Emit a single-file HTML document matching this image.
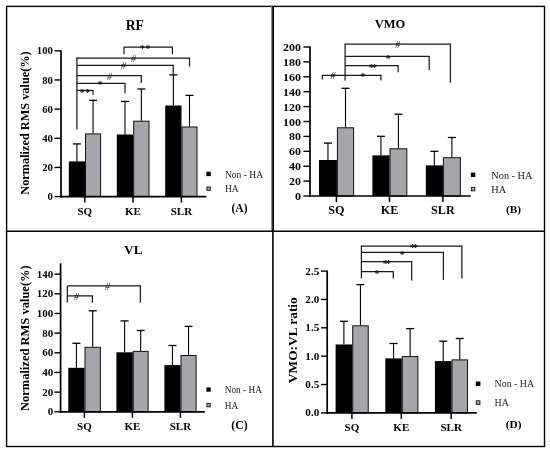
<!DOCTYPE html>
<html><head><meta charset="utf-8"><title>Figure</title>
<style>
html,body{margin:0;padding:0;background:#fff;}
svg{display:block;filter:blur(0.3px);}
svg text{font-family:"Liberation Serif", "Times New Roman", serif;}
</style></head>
<body>
<svg width="550" height="453" viewBox="0 0 550 453">
<rect x="0" y="0" width="550" height="453" fill="#fff"/>
<rect x="6.6" y="6.4" width="537.9" height="440.1" fill="none" stroke="#000" stroke-width="1.4"/>
<line x1="271.7" y1="6" x2="271.7" y2="231" stroke="#777" stroke-width="1.0"/>
<line x1="273.1" y1="6" x2="273.1" y2="231" stroke="#000" stroke-width="1.8"/>
<line x1="272.9" y1="231" x2="272.9" y2="447" stroke="#000" stroke-width="1.6"/>
<line x1="6" y1="231.2" x2="545" y2="231.2" stroke="#000" stroke-width="1.4"/>
<line x1="54.5" y1="196.6" x2="61.0" y2="196.6" stroke="#000" stroke-width="1.4"/>
<text x="52.9" y="200.2" font-size="11" font-weight="bold" text-anchor="end" fill="#000" textLength="5.35" lengthAdjust="spacingAndGlyphs">0</text>
<line x1="54.5" y1="167.44" x2="61.0" y2="167.44" stroke="#000" stroke-width="1.4"/>
<text x="52.9" y="171.04" font-size="11" font-weight="bold" text-anchor="end" fill="#000" textLength="10.70" lengthAdjust="spacingAndGlyphs">20</text>
<line x1="54.5" y1="138.27999999999997" x2="61.0" y2="138.27999999999997" stroke="#000" stroke-width="1.4"/>
<text x="52.9" y="141.88" font-size="11" font-weight="bold" text-anchor="end" fill="#000" textLength="10.70" lengthAdjust="spacingAndGlyphs">40</text>
<line x1="54.5" y1="109.11999999999999" x2="61.0" y2="109.11999999999999" stroke="#000" stroke-width="1.4"/>
<text x="52.9" y="112.72" font-size="11" font-weight="bold" text-anchor="end" fill="#000" textLength="10.70" lengthAdjust="spacingAndGlyphs">60</text>
<line x1="54.5" y1="79.95999999999998" x2="61.0" y2="79.95999999999998" stroke="#000" stroke-width="1.4"/>
<text x="52.9" y="83.56" font-size="11" font-weight="bold" text-anchor="end" fill="#000" textLength="10.70" lengthAdjust="spacingAndGlyphs">80</text>
<line x1="54.5" y1="50.79999999999998" x2="61.0" y2="50.79999999999998" stroke="#000" stroke-width="1.4"/>
<text x="52.9" y="54.4" font-size="11" font-weight="bold" text-anchor="end" fill="#000" textLength="16.05" lengthAdjust="spacingAndGlyphs">100</text>
<rect x="68.80" y="161.40" width="16.20" height="35.20" fill="#000"/>
<line x1="76.9" y1="161.4" x2="76.9" y2="143.9" stroke="#000" stroke-width="1.1"/>
<line x1="72.9" y1="143.9" x2="80.9" y2="143.9" stroke="#000" stroke-width="1.3"/>
<rect x="85.50" y="133.90" width="15.10" height="62.70" fill="#a5a6aa" stroke="#111" stroke-width="1.0"/>
<line x1="93.05" y1="133.4" x2="93.05" y2="100.3" stroke="#000" stroke-width="1.1"/>
<line x1="89.05" y1="100.3" x2="97.05" y2="100.3" stroke="#000" stroke-width="1.3"/>
<rect x="116.80" y="134.50" width="16.40" height="62.10" fill="#000"/>
<line x1="125.0" y1="134.5" x2="125.0" y2="101.4" stroke="#000" stroke-width="1.1"/>
<line x1="121.0" y1="101.4" x2="129.0" y2="101.4" stroke="#000" stroke-width="1.3"/>
<rect x="133.70" y="121.20" width="15.30" height="75.40" fill="#a5a6aa" stroke="#111" stroke-width="1.0"/>
<line x1="141.35" y1="120.7" x2="141.35" y2="89.0" stroke="#000" stroke-width="1.1"/>
<line x1="137.35" y1="89.0" x2="145.35" y2="89.0" stroke="#000" stroke-width="1.3"/>
<rect x="165.20" y="105.50" width="16.30" height="91.10" fill="#000"/>
<line x1="173.35" y1="105.5" x2="173.35" y2="74.9" stroke="#000" stroke-width="1.1"/>
<line x1="169.35" y1="74.9" x2="177.35" y2="74.9" stroke="#000" stroke-width="1.3"/>
<rect x="182.00" y="127.00" width="15.00" height="69.60" fill="#a5a6aa" stroke="#111" stroke-width="1.0"/>
<line x1="189.5" y1="126.5" x2="189.5" y2="95.4" stroke="#000" stroke-width="1.1"/>
<line x1="185.5" y1="95.4" x2="193.5" y2="95.4" stroke="#000" stroke-width="1.3"/>
<line x1="61.0" y1="50.6" x2="61.0" y2="197.45" stroke="#000" stroke-width="1.7"/>
<line x1="60.15" y1="196.6" x2="206.4" y2="196.6" stroke="#000" stroke-width="1.7"/>
<line x1="84.8" y1="196.6" x2="84.8" y2="202.6" stroke="#000" stroke-width="1.5"/>
<line x1="133.0" y1="196.6" x2="133.0" y2="202.6" stroke="#000" stroke-width="1.5"/>
<line x1="181.4" y1="196.6" x2="181.4" y2="202.6" stroke="#000" stroke-width="1.5"/>
<text x="84.8" y="214.5" font-size="11" font-weight="bold" text-anchor="middle" fill="#000">SQ</text>
<text x="133.0" y="214.5" font-size="11" font-weight="bold" text-anchor="middle" fill="#000">KE</text>
<text x="181.4" y="214.5" font-size="11" font-weight="bold" text-anchor="middle" fill="#000">SLR</text>
<line x1="76.9" y1="57.2" x2="76.9" y2="129.5" stroke="#1a1a1a" stroke-width="1.25"/>
<line x1="124.0" y1="47.2" x2="172.4" y2="47.2" stroke="#1a1a1a" stroke-width="1.25"/>
<line x1="124.0" y1="46.7" x2="124.0" y2="54.2" stroke="#1a1a1a" stroke-width="1.25"/>
<line x1="172.4" y1="46.7" x2="172.4" y2="54.2" stroke="#1a1a1a" stroke-width="1.25"/>
<line x1="76.9" y1="58.0" x2="189.5" y2="58.0" stroke="#1a1a1a" stroke-width="1.25"/>
<line x1="189.5" y1="57.5" x2="189.5" y2="66.5" stroke="#1a1a1a" stroke-width="1.25"/>
<line x1="76.9" y1="65.3" x2="173.2" y2="65.3" stroke="#1a1a1a" stroke-width="1.25"/>
<line x1="173.2" y1="64.8" x2="173.2" y2="74.0" stroke="#1a1a1a" stroke-width="1.25"/>
<line x1="76.9" y1="75.5" x2="141.3" y2="75.5" stroke="#1a1a1a" stroke-width="1.25"/>
<line x1="141.3" y1="75.0" x2="141.3" y2="83.0" stroke="#1a1a1a" stroke-width="1.25"/>
<line x1="76.9" y1="83.3" x2="125.0" y2="83.3" stroke="#1a1a1a" stroke-width="1.25"/>
<line x1="125.0" y1="82.8" x2="125.0" y2="93.2" stroke="#1a1a1a" stroke-width="1.25"/>
<line x1="76.9" y1="90.4" x2="93.0" y2="90.4" stroke="#1a1a1a" stroke-width="1.25"/>
<line x1="93.0" y1="89.9" x2="93.0" y2="94.8" stroke="#1a1a1a" stroke-width="1.25"/>
<text x="142.4" y="52.3" font-size="10.5" font-weight="bold" text-anchor="middle" fill="#111">*</text>
<text x="147.8" y="52.3" font-size="10.5" font-weight="bold" text-anchor="middle" fill="#111">*</text>
<text x="133.5" y="62.0" font-size="10" font-weight="normal" text-anchor="middle" fill="#1a1a1a" font-style="italic">#</text>
<text x="123.4" y="69.3" font-size="10" font-weight="normal" text-anchor="middle" fill="#1a1a1a" font-style="italic">#</text>
<text x="109.5" y="79.5" font-size="10" font-weight="normal" text-anchor="middle" fill="#1a1a1a" font-style="italic">#</text>
<text x="100.1" y="88.4" font-size="10.5" font-weight="bold" text-anchor="middle" fill="#111">*</text>
<text x="82.2" y="95.5" font-size="10.5" font-weight="bold" text-anchor="middle" fill="#111">*</text>
<text x="87.5" y="95.5" font-size="10.5" font-weight="bold" text-anchor="middle" fill="#111">*</text>
<rect x="206.40" y="171.70" width="4.40" height="4.40" fill="#000"/>
<rect x="206.90" y="187.00" width="3.40" height="3.40" fill="#a5a6aa" stroke="#222" stroke-width="1.0"/>
<text x="225.0" y="177.5" font-size="9.5" font-weight="normal" text-anchor="start" fill="#1a1a1a">Non - HA</text>
<text x="225.0" y="192.0" font-size="9.5" font-weight="normal" text-anchor="start" fill="#1a1a1a">HA</text>
<text x="239.5" y="212.3" font-size="11.5" font-weight="bold" text-anchor="middle" fill="#000">(A)</text>
<text x="134.8" y="30.1" font-size="13.6" font-weight="bold" text-anchor="middle" fill="#000">RF</text>
<text transform="translate(29.0,123.0) rotate(-90)" font-size="12.3" font-weight="bold" text-anchor="middle">Normalized RMS value(%)</text>
<line x1="303.4" y1="196.0" x2="310.0" y2="196.0" stroke="#000" stroke-width="1.4"/>
<text x="301.0" y="200.0" font-size="11.2" font-weight="bold" text-anchor="end" fill="#000" textLength="6.00" lengthAdjust="spacingAndGlyphs">0</text>
<line x1="303.4" y1="181.1" x2="310.0" y2="181.1" stroke="#000" stroke-width="1.4"/>
<text x="301.0" y="185.1" font-size="11.2" font-weight="bold" text-anchor="end" fill="#000" textLength="12.00" lengthAdjust="spacingAndGlyphs">20</text>
<line x1="303.4" y1="166.2" x2="310.0" y2="166.2" stroke="#000" stroke-width="1.4"/>
<text x="301.0" y="170.2" font-size="11.2" font-weight="bold" text-anchor="end" fill="#000" textLength="12.00" lengthAdjust="spacingAndGlyphs">40</text>
<line x1="303.4" y1="151.3" x2="310.0" y2="151.3" stroke="#000" stroke-width="1.4"/>
<text x="301.0" y="155.3" font-size="11.2" font-weight="bold" text-anchor="end" fill="#000" textLength="12.00" lengthAdjust="spacingAndGlyphs">60</text>
<line x1="303.4" y1="136.4" x2="310.0" y2="136.4" stroke="#000" stroke-width="1.4"/>
<text x="301.0" y="140.4" font-size="11.2" font-weight="bold" text-anchor="end" fill="#000" textLength="12.00" lengthAdjust="spacingAndGlyphs">80</text>
<line x1="303.4" y1="121.5" x2="310.0" y2="121.5" stroke="#000" stroke-width="1.4"/>
<text x="301.0" y="125.5" font-size="11.2" font-weight="bold" text-anchor="end" fill="#000" textLength="18.00" lengthAdjust="spacingAndGlyphs">100</text>
<line x1="303.4" y1="106.6" x2="310.0" y2="106.6" stroke="#000" stroke-width="1.4"/>
<text x="301.0" y="110.6" font-size="11.2" font-weight="bold" text-anchor="end" fill="#000" textLength="18.00" lengthAdjust="spacingAndGlyphs">120</text>
<line x1="303.4" y1="91.7" x2="310.0" y2="91.7" stroke="#000" stroke-width="1.4"/>
<text x="301.0" y="95.7" font-size="11.2" font-weight="bold" text-anchor="end" fill="#000" textLength="18.00" lengthAdjust="spacingAndGlyphs">140</text>
<line x1="303.4" y1="76.8" x2="310.0" y2="76.8" stroke="#000" stroke-width="1.4"/>
<text x="301.0" y="80.8" font-size="11.2" font-weight="bold" text-anchor="end" fill="#000" textLength="18.00" lengthAdjust="spacingAndGlyphs">160</text>
<line x1="303.4" y1="61.900000000000006" x2="310.0" y2="61.900000000000006" stroke="#000" stroke-width="1.4"/>
<text x="301.0" y="65.9" font-size="11.2" font-weight="bold" text-anchor="end" fill="#000" textLength="18.00" lengthAdjust="spacingAndGlyphs">180</text>
<line x1="303.4" y1="47.0" x2="310.0" y2="47.0" stroke="#000" stroke-width="1.4"/>
<text x="301.0" y="51.0" font-size="11.2" font-weight="bold" text-anchor="end" fill="#000" textLength="18.00" lengthAdjust="spacingAndGlyphs">200</text>
<rect x="319.00" y="160.00" width="17.90" height="36.00" fill="#000"/>
<line x1="327.95" y1="160.0" x2="327.95" y2="143.1" stroke="#000" stroke-width="1.1"/>
<line x1="323.95" y1="143.1" x2="331.95" y2="143.1" stroke="#000" stroke-width="1.3"/>
<rect x="337.40" y="127.80" width="16.20" height="68.20" fill="#a5a6aa" stroke="#111" stroke-width="1.0"/>
<line x1="345.5" y1="127.3" x2="345.5" y2="88.3" stroke="#000" stroke-width="1.1"/>
<line x1="341.5" y1="88.3" x2="349.5" y2="88.3" stroke="#000" stroke-width="1.3"/>
<rect x="372.40" y="155.40" width="17.10" height="40.60" fill="#000"/>
<line x1="380.95" y1="155.4" x2="380.95" y2="136.3" stroke="#000" stroke-width="1.1"/>
<line x1="376.95" y1="136.3" x2="384.95" y2="136.3" stroke="#000" stroke-width="1.3"/>
<rect x="390.00" y="148.80" width="16.80" height="47.20" fill="#a5a6aa" stroke="#111" stroke-width="1.0"/>
<line x1="398.4" y1="148.3" x2="398.4" y2="114.2" stroke="#000" stroke-width="1.1"/>
<line x1="394.4" y1="114.2" x2="402.4" y2="114.2" stroke="#000" stroke-width="1.3"/>
<rect x="425.80" y="165.40" width="17.10" height="30.60" fill="#000"/>
<line x1="434.35" y1="165.4" x2="434.35" y2="151.3" stroke="#000" stroke-width="1.1"/>
<line x1="430.35" y1="151.3" x2="438.35" y2="151.3" stroke="#000" stroke-width="1.3"/>
<rect x="443.40" y="157.70" width="17.00" height="38.30" fill="#a5a6aa" stroke="#111" stroke-width="1.0"/>
<line x1="451.9" y1="157.2" x2="451.9" y2="137.5" stroke="#000" stroke-width="1.1"/>
<line x1="447.9" y1="137.5" x2="455.9" y2="137.5" stroke="#000" stroke-width="1.3"/>
<line x1="310.0" y1="46.6" x2="310.0" y2="196.85" stroke="#000" stroke-width="1.7"/>
<line x1="309.15" y1="196.0" x2="470.8" y2="196.0" stroke="#000" stroke-width="1.7"/>
<line x1="336.4" y1="196.0" x2="336.4" y2="202.0" stroke="#000" stroke-width="1.5"/>
<line x1="389.5" y1="196.0" x2="389.5" y2="202.0" stroke="#000" stroke-width="1.5"/>
<line x1="442.9" y1="196.0" x2="442.9" y2="202.0" stroke="#000" stroke-width="1.5"/>
<text x="336.4" y="214.1" font-size="12.2" font-weight="bold" text-anchor="middle" fill="#000">SQ</text>
<text x="389.5" y="214.1" font-size="12.2" font-weight="bold" text-anchor="middle" fill="#000">KE</text>
<text x="442.9" y="214.1" font-size="12.2" font-weight="bold" text-anchor="middle" fill="#000">SLR</text>
<line x1="345.1" y1="43.6" x2="345.1" y2="80.4" stroke="#1a1a1a" stroke-width="1.25"/>
<line x1="345.1" y1="44.1" x2="450.4" y2="44.1" stroke="#1a1a1a" stroke-width="1.25"/>
<line x1="450.4" y1="43.6" x2="450.4" y2="82.7" stroke="#1a1a1a" stroke-width="1.25"/>
<line x1="345.1" y1="56.4" x2="429.2" y2="56.4" stroke="#1a1a1a" stroke-width="1.25"/>
<line x1="429.2" y1="55.9" x2="429.2" y2="69.9" stroke="#1a1a1a" stroke-width="1.25"/>
<line x1="345.1" y1="65.6" x2="398.1" y2="65.6" stroke="#1a1a1a" stroke-width="1.25"/>
<line x1="398.1" y1="65.1" x2="398.1" y2="72.2" stroke="#1a1a1a" stroke-width="1.25"/>
<line x1="322.4" y1="75.3" x2="380.9" y2="75.3" stroke="#1a1a1a" stroke-width="1.25"/>
<line x1="322.4" y1="74.8" x2="322.4" y2="79.5" stroke="#1a1a1a" stroke-width="1.25"/>
<line x1="380.9" y1="74.8" x2="380.9" y2="80.4" stroke="#1a1a1a" stroke-width="1.25"/>
<text x="397.7" y="48.1" font-size="10" font-weight="normal" text-anchor="middle" fill="#1a1a1a" font-style="italic">#</text>
<text x="388.0" y="61.5" font-size="10.5" font-weight="bold" text-anchor="middle" fill="#111">*</text>
<text x="371.2" y="70.7" font-size="10.5" font-weight="bold" text-anchor="middle" fill="#111">*</text>
<text x="374.4" y="70.7" font-size="10.5" font-weight="bold" text-anchor="middle" fill="#111">*</text>
<text x="333.1" y="79.3" font-size="10" font-weight="normal" text-anchor="middle" fill="#1a1a1a" font-style="italic">#</text>
<text x="362.9" y="80.4" font-size="10.5" font-weight="bold" text-anchor="middle" fill="#111">*</text>
<rect x="470.90" y="172.60" width="4.40" height="4.40" fill="#000"/>
<rect x="471.40" y="187.40" width="3.40" height="3.40" fill="#a5a6aa" stroke="#222" stroke-width="1.0"/>
<text x="491.3" y="178.5" font-size="10.3" font-weight="normal" text-anchor="start" fill="#1a1a1a">Non - HA</text>
<text x="491.3" y="192.5" font-size="10.3" font-weight="normal" text-anchor="start" fill="#1a1a1a">HA</text>
<text x="513.6" y="212.9" font-size="11.3" font-weight="bold" text-anchor="middle" fill="#000">(B)</text>
<text x="390.0" y="28.3" font-size="12.5" font-weight="bold" text-anchor="middle" fill="#000">VMO</text>
<line x1="54.4" y1="411.8" x2="60.6" y2="411.8" stroke="#000" stroke-width="1.4"/>
<text x="53.2" y="415.2" font-size="11" font-weight="bold" text-anchor="end" fill="#000" textLength="5.50" lengthAdjust="spacingAndGlyphs">0</text>
<line x1="54.4" y1="392.12857142857143" x2="60.6" y2="392.12857142857143" stroke="#000" stroke-width="1.4"/>
<text x="53.2" y="395.53" font-size="11" font-weight="bold" text-anchor="end" fill="#000" textLength="11.00" lengthAdjust="spacingAndGlyphs">20</text>
<line x1="54.4" y1="372.45714285714286" x2="60.6" y2="372.45714285714286" stroke="#000" stroke-width="1.4"/>
<text x="53.2" y="375.86" font-size="11" font-weight="bold" text-anchor="end" fill="#000" textLength="11.00" lengthAdjust="spacingAndGlyphs">40</text>
<line x1="54.4" y1="352.7857142857143" x2="60.6" y2="352.7857142857143" stroke="#000" stroke-width="1.4"/>
<text x="53.2" y="356.19" font-size="11" font-weight="bold" text-anchor="end" fill="#000" textLength="11.00" lengthAdjust="spacingAndGlyphs">60</text>
<line x1="54.4" y1="333.11428571428576" x2="60.6" y2="333.11428571428576" stroke="#000" stroke-width="1.4"/>
<text x="53.2" y="336.51" font-size="11" font-weight="bold" text-anchor="end" fill="#000" textLength="11.00" lengthAdjust="spacingAndGlyphs">80</text>
<line x1="54.4" y1="313.4428571428572" x2="60.6" y2="313.4428571428572" stroke="#000" stroke-width="1.4"/>
<text x="53.2" y="316.84" font-size="11" font-weight="bold" text-anchor="end" fill="#000" textLength="16.50" lengthAdjust="spacingAndGlyphs">100</text>
<line x1="54.4" y1="293.7714285714286" x2="60.6" y2="293.7714285714286" stroke="#000" stroke-width="1.4"/>
<text x="53.2" y="297.17" font-size="11" font-weight="bold" text-anchor="end" fill="#000" textLength="16.50" lengthAdjust="spacingAndGlyphs">120</text>
<line x1="54.4" y1="274.1" x2="60.6" y2="274.1" stroke="#000" stroke-width="1.4"/>
<text x="53.2" y="277.5" font-size="11" font-weight="bold" text-anchor="end" fill="#000" textLength="16.50" lengthAdjust="spacingAndGlyphs">140</text>
<rect x="68.30" y="367.80" width="16.20" height="44.00" fill="#000"/>
<line x1="76.4" y1="367.8" x2="76.4" y2="343.3" stroke="#000" stroke-width="1.1"/>
<line x1="72.4" y1="343.3" x2="80.4" y2="343.3" stroke="#000" stroke-width="1.3"/>
<rect x="85.00" y="347.30" width="15.40" height="64.50" fill="#a5a6aa" stroke="#111" stroke-width="1.0"/>
<line x1="92.7" y1="346.8" x2="92.7" y2="310.8" stroke="#000" stroke-width="1.1"/>
<line x1="88.7" y1="310.8" x2="96.7" y2="310.8" stroke="#000" stroke-width="1.3"/>
<rect x="116.40" y="352.30" width="16.40" height="59.50" fill="#000"/>
<line x1="124.60000000000001" y1="352.3" x2="124.60000000000001" y2="320.9" stroke="#000" stroke-width="1.1"/>
<line x1="120.60000000000001" y1="320.9" x2="128.60000000000002" y2="320.9" stroke="#000" stroke-width="1.3"/>
<rect x="133.30" y="351.40" width="14.80" height="60.40" fill="#a5a6aa" stroke="#111" stroke-width="1.0"/>
<line x1="140.7" y1="350.9" x2="140.7" y2="330.5" stroke="#000" stroke-width="1.1"/>
<line x1="136.7" y1="330.5" x2="144.7" y2="330.5" stroke="#000" stroke-width="1.3"/>
<rect x="164.40" y="365.10" width="16.10" height="46.70" fill="#000"/>
<line x1="172.45" y1="365.1" x2="172.45" y2="345.5" stroke="#000" stroke-width="1.1"/>
<line x1="168.45" y1="345.5" x2="176.45" y2="345.5" stroke="#000" stroke-width="1.3"/>
<rect x="181.00" y="355.50" width="15.10" height="56.30" fill="#a5a6aa" stroke="#111" stroke-width="1.0"/>
<line x1="188.55" y1="355.0" x2="188.55" y2="326.4" stroke="#000" stroke-width="1.1"/>
<line x1="184.55" y1="326.4" x2="192.55" y2="326.4" stroke="#000" stroke-width="1.3"/>
<line x1="60.6" y1="263.3" x2="60.6" y2="412.65000000000003" stroke="#000" stroke-width="1.7"/>
<line x1="59.75" y1="411.8" x2="204.9" y2="411.8" stroke="#000" stroke-width="1.7"/>
<line x1="84.4" y1="411.8" x2="84.4" y2="417.8" stroke="#000" stroke-width="1.5"/>
<line x1="132.4" y1="411.8" x2="132.4" y2="417.8" stroke="#000" stroke-width="1.5"/>
<line x1="180.4" y1="411.8" x2="180.4" y2="417.8" stroke="#000" stroke-width="1.5"/>
<text x="84.4" y="430.4" font-size="11" font-weight="bold" text-anchor="middle" fill="#000">SQ</text>
<text x="132.4" y="430.4" font-size="11" font-weight="bold" text-anchor="middle" fill="#000">KE</text>
<text x="180.4" y="430.4" font-size="11" font-weight="bold" text-anchor="middle" fill="#000">SLR</text>
<line x1="67.3" y1="285.9" x2="67.3" y2="302.6" stroke="#1a1a1a" stroke-width="1.25"/>
<line x1="67.3" y1="285.9" x2="140.4" y2="285.9" stroke="#1a1a1a" stroke-width="1.25"/>
<line x1="140.4" y1="285.4" x2="140.4" y2="302.6" stroke="#1a1a1a" stroke-width="1.25"/>
<line x1="67.3" y1="295.9" x2="92.4" y2="295.9" stroke="#1a1a1a" stroke-width="1.25"/>
<line x1="92.4" y1="295.4" x2="92.4" y2="302.8" stroke="#1a1a1a" stroke-width="1.25"/>
<text x="107.5" y="289.9" font-size="10" font-weight="normal" text-anchor="middle" fill="#1a1a1a" font-style="italic">#</text>
<text x="76.6" y="299.9" font-size="10" font-weight="normal" text-anchor="middle" fill="#1a1a1a" font-style="italic">#</text>
<rect x="206.40" y="387.40" width="4.30" height="4.30" fill="#000"/>
<rect x="206.90" y="403.50" width="3.30" height="3.30" fill="#a5a6aa" stroke="#222" stroke-width="1.0"/>
<text x="224.7" y="393.0" font-size="9.3" font-weight="normal" text-anchor="start" fill="#1a1a1a">Non - HA</text>
<text x="224.7" y="408.6" font-size="9.3" font-weight="normal" text-anchor="start" fill="#1a1a1a">HA</text>
<text x="239.5" y="428.6" font-size="11.8" font-weight="bold" text-anchor="middle" fill="#000">(C)</text>
<text x="133.3" y="254.3" font-size="13.3" font-weight="bold" text-anchor="middle" fill="#000">VL</text>
<text transform="translate(29.0,338.2) rotate(-90)" font-size="12.5" font-weight="bold" text-anchor="middle">Normalized RMS value(%)</text>
<line x1="321.0" y1="412.9" x2="327.2" y2="412.9" stroke="#000" stroke-width="1.4"/>
<text x="319.3" y="416.4" font-size="10.5" font-weight="bold" text-anchor="end" fill="#000" textLength="13.95" lengthAdjust="spacingAndGlyphs">0.0</text>
<line x1="321.0" y1="384.53999999999996" x2="327.2" y2="384.53999999999996" stroke="#000" stroke-width="1.4"/>
<text x="319.3" y="388.04" font-size="10.5" font-weight="bold" text-anchor="end" fill="#000" textLength="13.95" lengthAdjust="spacingAndGlyphs">0.5</text>
<line x1="321.0" y1="356.18" x2="327.2" y2="356.18" stroke="#000" stroke-width="1.4"/>
<text x="319.3" y="359.68" font-size="10.5" font-weight="bold" text-anchor="end" fill="#000" textLength="13.95" lengthAdjust="spacingAndGlyphs">1.0</text>
<line x1="321.0" y1="327.82" x2="327.2" y2="327.82" stroke="#000" stroke-width="1.4"/>
<text x="319.3" y="331.32" font-size="10.5" font-weight="bold" text-anchor="end" fill="#000" textLength="13.95" lengthAdjust="spacingAndGlyphs">1.5</text>
<line x1="321.0" y1="299.46000000000004" x2="327.2" y2="299.46000000000004" stroke="#000" stroke-width="1.4"/>
<text x="319.3" y="302.96" font-size="10.5" font-weight="bold" text-anchor="end" fill="#000" textLength="13.95" lengthAdjust="spacingAndGlyphs">2.0</text>
<line x1="321.0" y1="271.1" x2="327.2" y2="271.1" stroke="#000" stroke-width="1.4"/>
<text x="319.3" y="274.6" font-size="10.5" font-weight="bold" text-anchor="end" fill="#000" textLength="13.95" lengthAdjust="spacingAndGlyphs">2.5</text>
<rect x="335.60" y="344.50" width="16.60" height="68.40" fill="#000"/>
<line x1="343.9" y1="344.5" x2="343.9" y2="321.3" stroke="#000" stroke-width="1.1"/>
<line x1="339.9" y1="321.3" x2="347.9" y2="321.3" stroke="#000" stroke-width="1.3"/>
<rect x="352.70" y="325.80" width="15.50" height="87.10" fill="#a5a6aa" stroke="#111" stroke-width="1.0"/>
<line x1="360.45" y1="325.3" x2="360.45" y2="284.6" stroke="#000" stroke-width="1.1"/>
<line x1="356.45" y1="284.6" x2="364.45" y2="284.6" stroke="#000" stroke-width="1.3"/>
<rect x="385.30" y="358.40" width="16.50" height="54.50" fill="#000"/>
<line x1="393.55" y1="358.4" x2="393.55" y2="343.5" stroke="#000" stroke-width="1.1"/>
<line x1="389.55" y1="343.5" x2="397.55" y2="343.5" stroke="#000" stroke-width="1.3"/>
<rect x="402.30" y="356.60" width="15.60" height="56.30" fill="#a5a6aa" stroke="#111" stroke-width="1.0"/>
<line x1="410.1" y1="356.1" x2="410.1" y2="328.6" stroke="#000" stroke-width="1.1"/>
<line x1="406.1" y1="328.6" x2="414.1" y2="328.6" stroke="#000" stroke-width="1.3"/>
<rect x="434.90" y="361.10" width="16.60" height="51.80" fill="#000"/>
<line x1="443.2" y1="361.1" x2="443.2" y2="341.2" stroke="#000" stroke-width="1.1"/>
<line x1="439.2" y1="341.2" x2="447.2" y2="341.2" stroke="#000" stroke-width="1.3"/>
<rect x="452.00" y="359.90" width="15.50" height="53.00" fill="#a5a6aa" stroke="#111" stroke-width="1.0"/>
<line x1="459.75" y1="359.4" x2="459.75" y2="338.5" stroke="#000" stroke-width="1.1"/>
<line x1="455.75" y1="338.5" x2="463.75" y2="338.5" stroke="#000" stroke-width="1.3"/>
<line x1="327.2" y1="270.6" x2="327.2" y2="413.75" stroke="#000" stroke-width="1.7"/>
<line x1="326.34999999999997" y1="412.9" x2="476.8" y2="412.9" stroke="#000" stroke-width="1.7"/>
<line x1="351.9" y1="412.9" x2="351.9" y2="418.9" stroke="#000" stroke-width="1.5"/>
<line x1="401.3" y1="412.9" x2="401.3" y2="418.9" stroke="#000" stroke-width="1.5"/>
<line x1="451.2" y1="412.9" x2="451.2" y2="418.9" stroke="#000" stroke-width="1.5"/>
<text x="351.9" y="430.5" font-size="11" font-weight="bold" text-anchor="middle" fill="#000">SQ</text>
<text x="401.3" y="430.5" font-size="11" font-weight="bold" text-anchor="middle" fill="#000">KE</text>
<text x="451.2" y="430.5" font-size="11" font-weight="bold" text-anchor="middle" fill="#000">SLR</text>
<line x1="361.4" y1="245.5" x2="361.4" y2="278.4" stroke="#1a1a1a" stroke-width="1.25"/>
<line x1="361.4" y1="246.1" x2="461.9" y2="246.1" stroke="#1a1a1a" stroke-width="1.25"/>
<line x1="461.9" y1="245.6" x2="461.9" y2="278.2" stroke="#1a1a1a" stroke-width="1.25"/>
<line x1="361.4" y1="252.4" x2="443.4" y2="252.4" stroke="#1a1a1a" stroke-width="1.25"/>
<line x1="443.4" y1="251.9" x2="443.4" y2="279.9" stroke="#1a1a1a" stroke-width="1.25"/>
<line x1="361.4" y1="261.5" x2="411.7" y2="261.5" stroke="#1a1a1a" stroke-width="1.25"/>
<line x1="411.7" y1="261.0" x2="411.7" y2="280.4" stroke="#1a1a1a" stroke-width="1.25"/>
<line x1="361.4" y1="271.7" x2="393.3" y2="271.7" stroke="#1a1a1a" stroke-width="1.25"/>
<line x1="393.3" y1="271.2" x2="393.3" y2="278.4" stroke="#1a1a1a" stroke-width="1.25"/>
<text x="412.3" y="251.2" font-size="10.5" font-weight="bold" text-anchor="middle" fill="#111">*</text>
<text x="415.4" y="251.2" font-size="10.5" font-weight="bold" text-anchor="middle" fill="#111">*</text>
<text x="402.2" y="257.5" font-size="10.5" font-weight="bold" text-anchor="middle" fill="#111">*</text>
<text x="385.1" y="266.6" font-size="10.5" font-weight="bold" text-anchor="middle" fill="#111">*</text>
<text x="388.4" y="266.6" font-size="10.5" font-weight="bold" text-anchor="middle" fill="#111">*</text>
<text x="376.8" y="276.8" font-size="10.5" font-weight="bold" text-anchor="middle" fill="#111">*</text>
<rect x="475.80" y="381.50" width="4.60" height="4.60" fill="#000"/>
<rect x="476.30" y="400.80" width="3.60" height="3.60" fill="#a5a6aa" stroke="#222" stroke-width="1.0"/>
<text x="494.6" y="387.1" font-size="9.9" font-weight="normal" text-anchor="start" fill="#1a1a1a">Non - HA</text>
<text x="494.6" y="406.0" font-size="9.9" font-weight="normal" text-anchor="start" fill="#1a1a1a">HA</text>
<text x="513.6" y="428.4" font-size="11.3" font-weight="bold" text-anchor="middle" fill="#000">(D)</text>
<text transform="translate(296.6,340.2) rotate(-90)" font-size="13.4" font-weight="bold" text-anchor="middle">VMO:VL ratio</text>
</svg>
</body></html>
